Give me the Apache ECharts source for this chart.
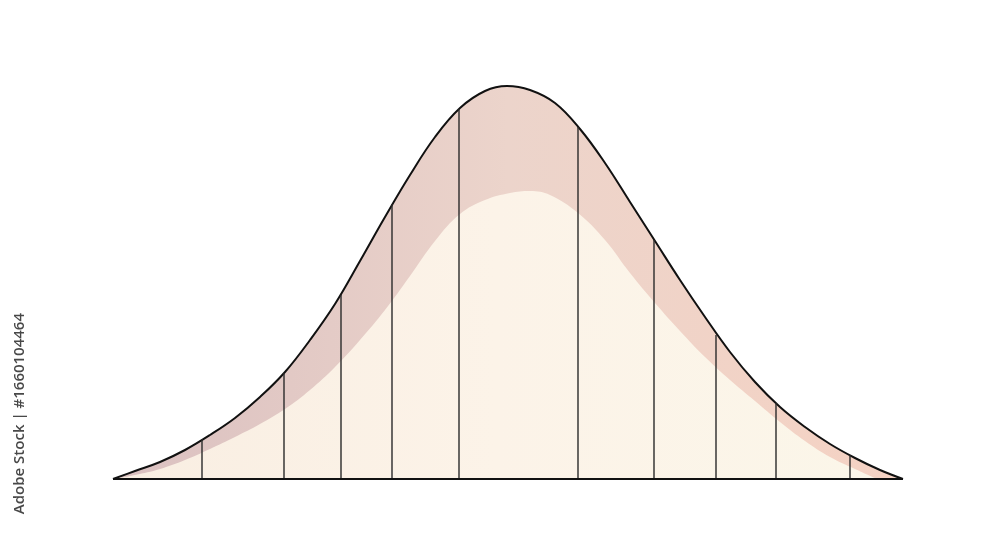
<!DOCTYPE html>
<html>
<head>
<meta charset="utf-8">
<script src="https://cdn.jsdelivr.net/npm/echarts@6/dist/echarts.min.js"></script>
<style>html,body{margin:0;padding:0;background:#fff;}#c{width:1000px;height:560px;}</style>
</head>
<body>
<div id="c"></div>
<script>
// Outer bell curve (position along axis, height above baseline)
var outerX = [113, 135, 160, 185, 210, 235, 260, 285, 310, 335, 360, 385, 410, 435, 460, 485, 507, 530, 555, 580, 605, 630, 655, 680, 705, 730, 755, 780, 805, 830, 855, 880, 903];
var outerY = [0, 8, 17, 29, 44, 61, 82, 107, 139, 175, 218, 262, 304, 342, 371, 388, 393, 389, 376, 350, 316, 277, 238, 199, 162, 127, 97, 72, 52, 35, 21, 9, 0];
// Inner (cream) curve
var innerX = [113, 135, 160, 185, 210, 235, 260, 285, 310, 335, 360, 385, 410, 435, 460, 485, 510, 530, 550, 578, 605, 630, 655, 680, 705, 730, 755, 780, 805, 830, 855, 877];
var innerY = [0, 4, 10, 19, 30, 42, 55, 70, 89, 112, 139, 169, 203, 238, 265, 279, 286, 288, 284, 266, 239, 206, 176, 148, 122, 99, 78, 57, 38, 22, 10, 0];
// Vertical dividers (position, height where they meet the curve)
var dividerX = [202, 284, 341, 392, 459, 578, 654, 716, 776, 850];
var dividerY = [40, 106, 184, 275, 370, 352, 239, 144, 76, 24];
var watermarkText = 'Adobe Stock | #1660104464';

function pairs(xs, ys) { return xs.map(function (x, i) { return [x, ys[i]]; }); }

var chart = echarts.init(document.getElementById('c'));
chart.setOption({
  backgroundColor: '#ffffff',
  animation: false,
  grid: { left: 0, right: 0, top: 0, bottom: 81 },
  xAxis: { type: 'value', min: 0, max: 1000, show: false },
  yAxis: { type: 'value', min: 0, max: 479, show: false },
  graphic: [{
    type: 'text',
    x: 20, y: 313,
    rotation: Math.PI / 2,
    style: {
      text: watermarkText,
      fill: 'rgba(40,40,40,0.85)',
      font: '600 15px "Open Sans", sans-serif',
      textAlign: 'right',
      textVerticalAlign: 'middle'
    }
  }],
  series: [
    {
      type: 'line',
      data: pairs(outerX, outerY),
      smooth: 0.4,
      symbol: 'none',
      lineStyle: { color: '#111', width: 2 },
      areaStyle: {
        opacity: 1,
        color: new echarts.graphic.LinearGradient(0, 0, 1, 0, [
          { offset: 0, color: '#dac0c0' },
          { offset: 0.5, color: '#ecd4cb' },
          { offset: 1, color: '#f5d2c3' }
        ])
      },
      z: 2
    },
    {
      type: 'line',
      data: pairs(innerX, innerY),
      smooth: 0.4,
      symbol: 'none',
      lineStyle: { width: 0, opacity: 0 },
      areaStyle: {
        opacity: 1,
        color: new echarts.graphic.LinearGradient(0, 0, 1, 0, [
          { offset: 0, color: '#f9eee2' },
          { offset: 0.5, color: '#fcf3e8' },
          { offset: 1, color: '#fbf6e9' }
        ])
      },
      z: 3
    },
    {
      type: 'custom',
      data: pairs(dividerX, dividerY),
      renderItem: function (params, api) {
        var p0 = api.coord([api.value(0), 0]);
        var p1 = api.coord([api.value(0), api.value(1)]);
        return {
          type: 'line',
          shape: { x1: p0[0], y1: p0[1], x2: p1[0], y2: p1[1] },
          style: { stroke: '#2a2a2a', lineWidth: 1.4 }
        };
      },
      z: 4
    },
    {
      type: 'line',
      data: [[outerX[0], 0], [outerX[outerX.length - 1], 0]],
      symbol: 'none',
      lineStyle: { color: '#111', width: 2.2 },
      z: 5
    }
  ]
});
</script>
</body>
</html>
